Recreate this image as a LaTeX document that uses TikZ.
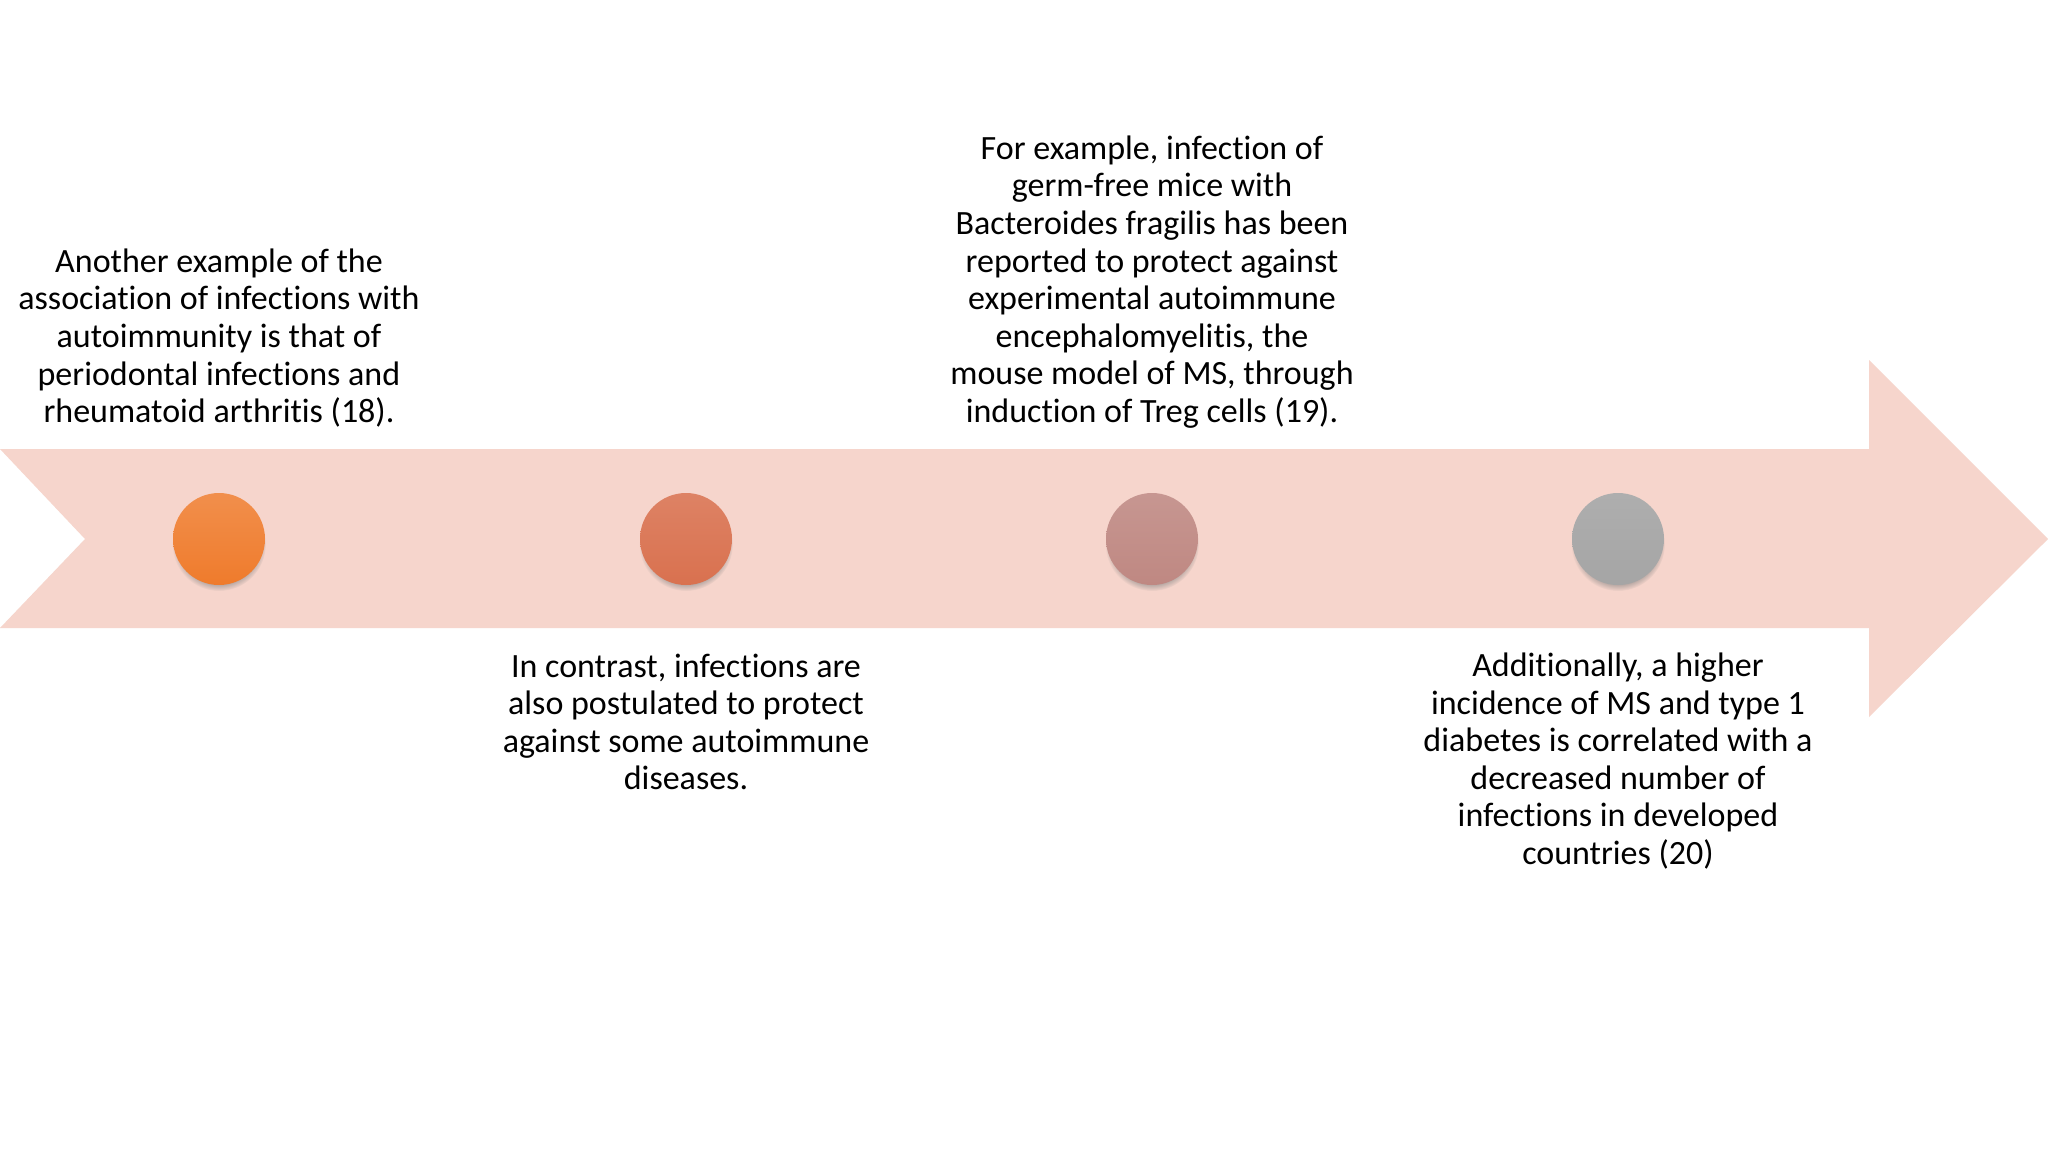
\documentclass[tikz,border=0pt]{standalone}
\usepackage{fontspec}
\setmainfont{Carlito}[Ligatures={NoCommon}]
\usetikzlibrary{shadows}
\definecolor{arrowpink}{HTML}{F6D5CC}
\definecolor{dotA}{HTML}{EF7B2C}
\definecolor{dotB}{HTML}{D9714F}
\definecolor{dotC}{HTML}{BF8882}
\definecolor{dotD}{HTML}{A5A5A5}
\tikzset{
  dot/.style={circle, minimum size=92pt, inner sep=0pt,
    circular drop shadow={shadow xshift=0pt, shadow yshift=-5pt, opacity=0.55, shadow scale=1.02}},
  label/.style={align=center, font=\fontsize{34}{37.6}\selectfont, text=black, inner sep=0pt}
}
\begin{document}
\begin{tikzpicture}[x=1pt,y=-1pt]
\useasboundingbox (0,0) rectangle (2048,1152);
\fill[white] (0,0) rectangle (2048,1152);
% timeline arrow
\fill[arrowpink] (0,449) -- (1869,449) -- (1869,360) -- (2048,539) -- (1869,717) -- (1869,628) -- (0,628) -- (85,539) -- cycle;
% dots
\node[dot, top color=dotA!85!white, bottom color=dotA] (c1) at (219,539) {};
\node[dot, top color=dotB!88!white, bottom color=dotB] (c2) at (686,539) {};
\node[dot, top color=dotC!88!white, bottom color=dotC] (c3) at (1152,539) {};
\node[dot, top color=dotD!90!white, bottom color=dotD] (c4) at (1618,539) {};
% texts
\node[label] (t1) at (219,338) {Another example of the\\association of infections with\\autoimmunity is that of\\periodontal infections and\\rheumatoid arthritis (18).};
\node[label] (t2) at (686,722) {In contrast, infections are\\also postulated to protect\\against some autoimmune\\diseases.};
\node[label] (t3) at (1152,282) {For example, infection of\\germ-free mice with\\Bacteroides fragilis has been\\reported to protect against\\experimental autoimmune\\encephalomyelitis, the\\mouse model of MS, through\\induction of Treg cells (19).};
\node[label] (t4) at (1618,761) {Additionally, a higher\\incidence of MS and type 1\\diabetes is correlated with a\\decreased number of\\infections in developed\\countries (20)};
\end{tikzpicture}
\end{document}
